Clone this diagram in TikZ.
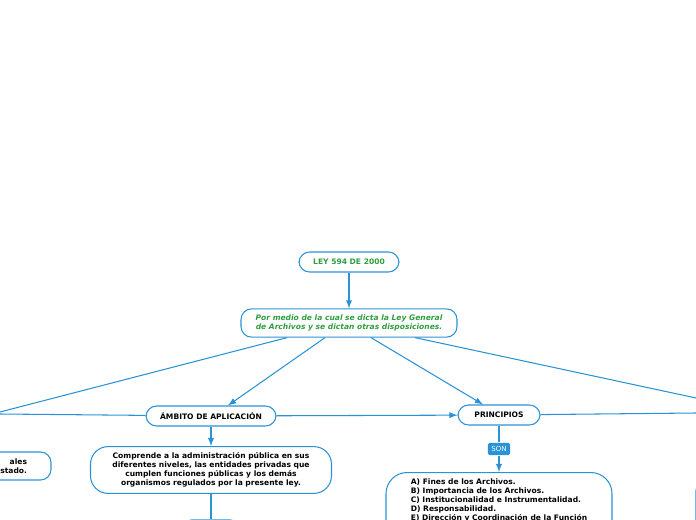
\documentclass[tikz,border=0pt]{standalone}
\usepackage{fontspec}
\setmainfont{DejaVu Sans}
\usetikzlibrary{positioning, calc}
\definecolor{lineblue}{HTML}{2A93D5}
\definecolor{titlegreen}{HTML}{2E9E3E}

\begin{document}
\begin{tikzpicture}[x=0.02cm, y=-0.02cm, line width=0.6pt, >=latex,
    every node/.style={font=\bfseries\fontsize{4.3}{5.2}\selectfont},
    topic/.style={draw=lineblue, rounded corners=6pt, fill=white, align=center},
    link/.style={draw=lineblue, ->}]
    \useasboundingbox (0,0) rectangle (696,520);
    \clip (0,0) rectangle (696,520);

    \node[topic, minimum width=100*0.02cm, minimum height=20*0.02cm, text=titlegreen] (ley) at (349,262) {LEY 594 DE 2000};
    \node[topic, minimum width=216*0.02cm, minimum height=28*0.02cm, text=titlegreen, font=\bfseries\itshape\fontsize{4.3}{5.2}\selectfont] (objeto) at (349,323) {Por medio de la cual se dicta la Ley General\\de Archivos y se dictan otras disposiciones.};
    \node[topic, minimum width=130*0.02cm, minimum height=20*0.02cm] (ambito) at (211,416) {ÁMBITO DE APLICACIÓN};
    \node[topic, minimum width=82*0.02cm, minimum height=20*0.02cm] (principios) at (499,415) {PRINCIPIOS};
    \node[topic, minimum width=241*0.02cm, minimum height=44*0.02cm, rounded corners=10pt] (comprende) at (211,470) {Comprende a la administración pública en sus\\diferentes niveles, las entidades privadas que\\cumplen funciones públicas y los demás\\organismos regulados por la presente ley.};
    \node[topic, minimum width=108*0.02cm, minimum height=28*0.02cm, text width=60*0.02cm, align=right] (izq) at (-3,466) {ales\\Estado.};
    \node[topic, anchor=north, minimum width=226*0.02cm, rounded corners=12pt, align=left, text depth=40*0.02cm] (lista) at (499,472) {A) Fines de los Archivos.\\B) Importancia de los Archivos.\\C) Institucionalidad e Instrumentalidad.\\D) Responsabilidad.\\E) Dirección y Coordinación de la Función};
    \node[topic, minimum width=60*0.02cm, minimum height=20*0.02cm] (abajo) at (211,530) {};
    \node[topic, minimum width=60*0.02cm, minimum height=60*0.02cm] (der) at (726,510) {};
    \node[fill=lineblue, text=white, font=\fontsize{4}{5}\selectfont, inner sep=2pt, rounded corners=1pt] (son) at (499,449) {SON};
    \coordinate (bordeizq) at (0,412);
    \coordinate (bordeder) at (696,398);
    \coordinate (ladoizq) at (0,414);
    \coordinate (ladoder) at (696,413);

    \draw[link] (ley) -- (objeto);
    \draw[draw=lineblue] ($(objeto.south)+(-62*0.02cm,0)$) -- (bordeizq);
    \draw[link] ($(objeto.south)+(-24*0.02cm,0)$) -- ($(ambito.north)+(17*0.02cm,0)$);
    \draw[link] ($(objeto.south)+(22*0.02cm,0)$) -- ($(principios.north)+(-16*0.02cm,0)$);
    \draw[draw=lineblue] ($(objeto.south)+(66*0.02cm,0)$) -- (bordeder);
    \draw[draw=lineblue] (ladoizq) -- (ambito);
    \draw[link] (ambito) -- (principios);
    \draw[draw=lineblue] (principios) -- (ladoder);
    \draw[link] (ambito) -- (comprende);
    \draw[draw=lineblue] (comprende) -- (abajo);
    \draw[draw=lineblue] (principios) -- (son);
    \draw[link] (son) -- (lista);
\end{tikzpicture}
\end{document}
